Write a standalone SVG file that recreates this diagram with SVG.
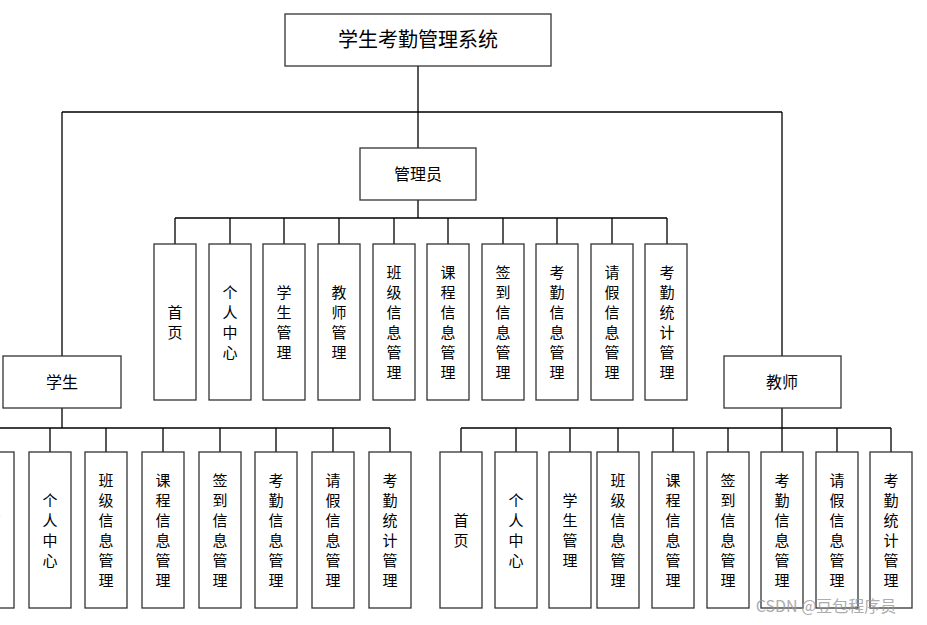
<svg xmlns="http://www.w3.org/2000/svg" width="927" height="625" viewBox="0 0 927 625">
<style>
rect{fill:#fff;stroke:#333;stroke-width:1.3}
text{font-family:"Noto Sans CJK SC",sans-serif;font-size:15px;fill:#000;text-anchor:middle}
.big{font-size:20px}
.mid{font-size:16px}
#connectors path{fill:none;stroke:#000;stroke-width:1.3}
</style>
<rect x="0" y="0" width="927" height="625" style="fill:#fff;stroke:none"/>
<g id="connectors">
<path d="M418 66V112M62 112H782M62 112V356M782 112V356M418 112V148"/>
<path d="M418 200V218M175 218H667M175 218V244M230 218V244M284 218V244M339 218V244M394 218V244M448 218V244M503 218V244M557 218V244M612 218V244M667 218V244"/>
<path d="M62 408V428M0 428H390M50 428V452M106 428V452M163 428V452M220 428V452M276 428V452M333 428V452M390 428V452"/>
<path d="M782 408V428M461 428H891M461 428V452M516 428V452M570 428V452M618 428V452M673 428V452M728 428V452M782 428V452M837 428V452M891 428V452"/>
</g>
<g id="title"><rect x="285" y="14" width="266" height="52"/><text class="big" x="418" y="47">学生考勤管理系统</text></g>
<g id="admin"><rect x="360" y="148" width="116" height="52"/><text class="mid" x="418" y="180">管理员</text></g>
<g id="student"><rect x="3" y="356" width="118" height="52"/><text class="mid" x="62" y="388">学生</text></g>
<g id="teacher"><rect x="724" y="356" width="117" height="52"/><text class="mid" x="782" y="388">教师</text></g>
<g id="admin-items">
<g id="a1"><rect x="154" y="244" width="42" height="156"/><text x="175" y="318">首</text><text x="175" y="338">页</text></g>
<g id="a2"><rect x="209" y="244" width="42" height="156"/><text x="230" y="298">个</text><text x="230" y="318">人</text><text x="230" y="338">中</text><text x="230" y="358">心</text></g>
<g id="a3"><rect x="263" y="244" width="42" height="156"/><text x="284" y="298">学</text><text x="284" y="318">生</text><text x="284" y="338">管</text><text x="284" y="358">理</text></g>
<g id="a4"><rect x="318" y="244" width="42" height="156"/><text x="339" y="298">教</text><text x="339" y="318">师</text><text x="339" y="338">管</text><text x="339" y="358">理</text></g>
<g id="a5"><rect x="373" y="244" width="42" height="156"/><text x="394" y="278">班</text><text x="394" y="298">级</text><text x="394" y="318">信</text><text x="394" y="338">息</text><text x="394" y="358">管</text><text x="394" y="378">理</text></g>
<g id="a6"><rect x="427" y="244" width="42" height="156"/><text x="448" y="278">课</text><text x="448" y="298">程</text><text x="448" y="318">信</text><text x="448" y="338">息</text><text x="448" y="358">管</text><text x="448" y="378">理</text></g>
<g id="a7"><rect x="482" y="244" width="42" height="156"/><text x="503" y="278">签</text><text x="503" y="298">到</text><text x="503" y="318">信</text><text x="503" y="338">息</text><text x="503" y="358">管</text><text x="503" y="378">理</text></g>
<g id="a8"><rect x="536" y="244" width="42" height="156"/><text x="557" y="278">考</text><text x="557" y="298">勤</text><text x="557" y="318">信</text><text x="557" y="338">息</text><text x="557" y="358">管</text><text x="557" y="378">理</text></g>
<g id="a9"><rect x="591" y="244" width="42" height="156"/><text x="612" y="278">请</text><text x="612" y="298">假</text><text x="612" y="318">信</text><text x="612" y="338">息</text><text x="612" y="358">管</text><text x="612" y="378">理</text></g>
<g id="a10"><rect x="645" y="244" width="42" height="156"/><text x="667" y="278">考</text><text x="667" y="298">勤</text><text x="667" y="318">统</text><text x="667" y="338">计</text><text x="667" y="358">管</text><text x="667" y="378">理</text></g>
</g>
<g id="student-items">
<g id="s1"><rect x="-28" y="452" width="42" height="156"/><text x="-7" y="526">首</text><text x="-7" y="546">页</text></g>
<g id="s2"><rect x="29" y="452" width="42" height="156"/><text x="50" y="506">个</text><text x="50" y="526">人</text><text x="50" y="546">中</text><text x="50" y="566">心</text></g>
<g id="s3"><rect x="85" y="452" width="42" height="156"/><text x="106" y="486">班</text><text x="106" y="506">级</text><text x="106" y="526">信</text><text x="106" y="546">息</text><text x="106" y="566">管</text><text x="106" y="586">理</text></g>
<g id="s4"><rect x="142" y="452" width="42" height="156"/><text x="163" y="486">课</text><text x="163" y="506">程</text><text x="163" y="526">信</text><text x="163" y="546">息</text><text x="163" y="566">管</text><text x="163" y="586">理</text></g>
<g id="s5"><rect x="199" y="452" width="42" height="156"/><text x="220" y="486">签</text><text x="220" y="506">到</text><text x="220" y="526">信</text><text x="220" y="546">息</text><text x="220" y="566">管</text><text x="220" y="586">理</text></g>
<g id="s6"><rect x="255" y="452" width="42" height="156"/><text x="276" y="486">考</text><text x="276" y="506">勤</text><text x="276" y="526">信</text><text x="276" y="546">息</text><text x="276" y="566">管</text><text x="276" y="586">理</text></g>
<g id="s7"><rect x="312" y="452" width="42" height="156"/><text x="333" y="486">请</text><text x="333" y="506">假</text><text x="333" y="526">信</text><text x="333" y="546">息</text><text x="333" y="566">管</text><text x="333" y="586">理</text></g>
<g id="s8"><rect x="369" y="452" width="42" height="156"/><text x="390" y="486">考</text><text x="390" y="506">勤</text><text x="390" y="526">统</text><text x="390" y="546">计</text><text x="390" y="566">管</text><text x="390" y="586">理</text></g>
</g>
<g id="teacher-items">
<g id="t1"><rect x="440" y="452" width="42" height="156"/><text x="461" y="526">首</text><text x="461" y="546">页</text></g>
<g id="t2"><rect x="495" y="452" width="42" height="156"/><text x="516" y="506">个</text><text x="516" y="526">人</text><text x="516" y="546">中</text><text x="516" y="566">心</text></g>
<g id="t3"><rect x="549" y="452" width="42" height="156"/><text x="570" y="506">学</text><text x="570" y="526">生</text><text x="570" y="546">管</text><text x="570" y="566">理</text></g>
<g id="t4"><rect x="597" y="452" width="42" height="156"/><text x="618" y="486">班</text><text x="618" y="506">级</text><text x="618" y="526">信</text><text x="618" y="546">息</text><text x="618" y="566">管</text><text x="618" y="586">理</text></g>
<g id="t5"><rect x="652" y="452" width="42" height="156"/><text x="673" y="486">课</text><text x="673" y="506">程</text><text x="673" y="526">信</text><text x="673" y="546">息</text><text x="673" y="566">管</text><text x="673" y="586">理</text></g>
<g id="t6"><rect x="707" y="452" width="42" height="156"/><text x="728" y="486">签</text><text x="728" y="506">到</text><text x="728" y="526">信</text><text x="728" y="546">息</text><text x="728" y="566">管</text><text x="728" y="586">理</text></g>
<g id="t7"><rect x="761" y="452" width="42" height="156"/><text x="782" y="486">考</text><text x="782" y="506">勤</text><text x="782" y="526">信</text><text x="782" y="546">息</text><text x="782" y="566">管</text><text x="782" y="586">理</text></g>
<g id="t8"><rect x="816" y="452" width="42" height="156"/><text x="837" y="486">请</text><text x="837" y="506">假</text><text x="837" y="526">信</text><text x="837" y="546">息</text><text x="837" y="566">管</text><text x="837" y="586">理</text></g>
<g id="t9"><rect x="870" y="452" width="42" height="156"/><text x="891" y="486">考</text><text x="891" y="506">勤</text><text x="891" y="526">统</text><text x="891" y="546">计</text><text x="891" y="566">管</text><text x="891" y="586">理</text></g>
</g>
<text x="826" y="612" style="font-size:16px;fill:#999;opacity:0.8">CSDN @豆包程序员</text>
</svg>
